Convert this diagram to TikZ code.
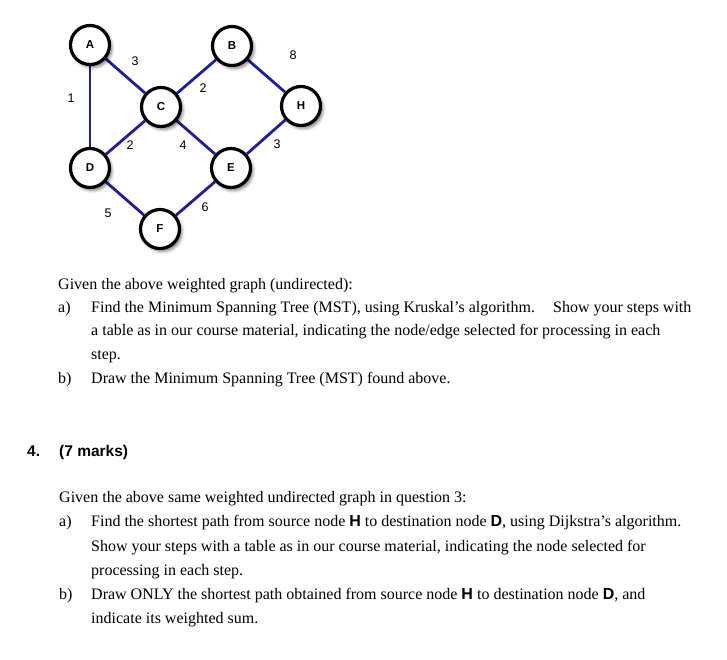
\documentclass[tikz,border=0pt]{standalone}
\usepackage{fontspec}
\setmainfont{Liberation Serif}
\newfontfamily\arialfont{Liberation Sans}
\usetikzlibrary{shadows.blur,backgrounds}
\definecolor{edgeblue}{RGB}{30,30,155}
\newcommand{\sfb}[1]{{\arialfont\bfseries #1}}
\begin{document}
\begin{tikzpicture}[x=1pt,y=-1pt,
  vert/.style={circle, draw=black, line width=3.2pt, fill=white, minimum size=39pt, inner sep=0pt,
    font=\arialfont\bfseries\fontsize{11.5}{13}\selectfont,
    blur shadow={shadow xshift=2.5pt, shadow yshift=-3pt, shadow blur radius=3pt, shadow opacity=50}},
  wedge/.style={draw=edgeblue, line width=2.8pt},
  wlabel/.style={font=\arialfont\fontsize{12.5}{14}\selectfont, inner sep=0pt},
  txt/.style={anchor=base west, inner sep=0pt, font=\fontsize{16}{19}\selectfont},
  head/.style={anchor=base west, inner sep=0pt, font=\arialfont\bfseries\fontsize{15.5}{18}\selectfont}]
\useasboundingbox (0,0) rectangle (727,659);
% vertices
\node[vert] (A) at (90,45) {A};
\node[vert] (B) at (232,46) {B};
\node[vert] (C) at (161,107) {C};
\node[vert] (H) at (301,106) {H};
\node[vert] (D) at (90,168) {D};
\node[vert] (E) at (231,168) {E};
\node[vert] (F) at (160,229) {F};
% edges
\begin{scope}[on background layer]
\draw[wedge] (A) -- (D);
\draw[wedge] (A) -- (C);
\draw[wedge] (C) -- (B);
\draw[wedge] (B) -- (H);
\draw[wedge] (C) -- (D);
\draw[wedge] (C) -- (E);
\draw[wedge] (E) -- (H);
\draw[wedge] (D) -- (F);
\draw[wedge] (F) -- (E);
\end{scope}
% weights
\node[wlabel] (wAC) at (135,61) {3};
\node[wlabel] (wBH) at (293,55) {8};
\node[wlabel] (wAD) at (71,98) {1};
\node[wlabel] (wBC) at (203,88) {2};
\node[wlabel] (wCD) at (130,145) {2};
\node[wlabel] (wCE) at (183,145) {4};
\node[wlabel] (wEH) at (277,144) {3};
\node[wlabel] (wDF) at (108,213) {5};
\node[wlabel] (wEF) at (205,207) {6};
% question 3 text
\node[txt] (q3a) at (58,289) {Given the above weighted graph (undirected):};
\node[txt] (q3b) at (58,312) {a)};
\node[txt] (q3c) at (91,312) {Find the Minimum Spanning Tree (MST), using Kruskal’s algorithm.\hspace{0.8em} Show your steps with};
\node[txt] (q3d) at (91,335) {a table as in our course material, indicating the node/edge selected for processing in each};
\node[txt] (q3e) at (91,359) {step.};
\node[txt] (q3f) at (58,383) {b)};
\node[txt] (q3g) at (91,383) {Draw the Minimum Spanning Tree (MST) found above.};
% question 4
\node[head] (q4n) at (27,456) {4.};
\node[head] (q4m) at (59,456) {(7 marks)};
\node[txt] (q4a) at (59,502) {Given the above same weighted undirected graph in question 3:};
\node[txt] (q4b) at (59,526) {a)};
\node[txt] (q4c) at (91,526) {Find the shortest path from source node \sfb{H} to destination node \sfb{D}, using Dijkstra’s algorithm.};
\node[txt] (q4d) at (91,551) {Show your steps with a table as in our course material, indicating the node selected for};
\node[txt] (q4e) at (91,575) {processing in each step.};
\node[txt] (q4f) at (59,599) {b)};
\node[txt] (q4g) at (91,599) {Draw ONLY the shortest path obtained from source node \sfb{H} to destination node \sfb{D}, and};
\node[txt] (q4h) at (91,623) {indicate its weighted sum.};
\end{tikzpicture}
\end{document}
